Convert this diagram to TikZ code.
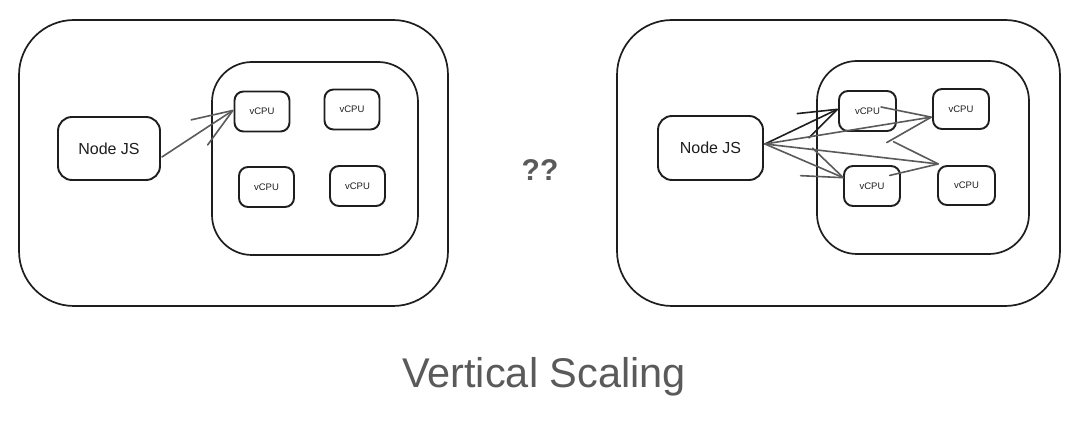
\documentclass[tikz,border=0pt]{standalone}
\usepackage{fontspec}
\setmainfont{Liberation Sans}
\usetikzlibrary{arrows.meta,calc}
\definecolor{ink}{HTML}{1E1E1E}
\definecolor{gry}{HTML}{5A5A5A}
\begin{document}
\begin{tikzpicture}[x=1pt,y=-1pt,
  shell/.style={draw=ink,line width=1.7pt,rounded corners=55pt,inner sep=0pt},
  inbox/.style={draw=ink,line width=1.7pt,rounded corners=40pt,inner sep=0pt},
  njs/.style={draw=ink,line width=1.9pt,rounded corners=14pt,inner sep=0pt,text=ink,font=\fontsize{16}{18}\selectfont},
  cpu/.style={draw=ink,line width=1.9pt,rounded corners=9pt,inner sep=0pt,text=ink,font=\fontsize{9.5}{11}\selectfont},
  conn/.style={line width=1.6pt,line cap=round,line join=round},
]
\useasboundingbox[fill=white] (0,0) rectangle (1080,422);

% ---------- left panel ----------
\node[shell,minimum width=429pt,minimum height=286pt] (lout) at (233.5,163) {};
\node[inbox,minimum width=206pt,minimum height=193pt] (lin) at (315,158.5) {};
\node[njs,minimum width=102pt,minimum height=63pt] (lnjs) at (109,148.5) {Node JS};
\node[cpu,minimum width=55pt,minimum height=40pt] (lc1) at (262,111.5) {vCPU};
\node[cpu,minimum width=55pt,minimum height=40pt] (lc2) at (352,109.5) {vCPU};
\node[cpu,minimum width=55pt,minimum height=40pt] (lc3) at (266.5,187) {vCPU};
\node[cpu,minimum width=55pt,minimum height=40pt] (lc4) at (357.5,186) {vCPU};

\draw[conn,draw=gry,-{Straight Barb[length=40pt,width=30pt,round]}]
  ($(lnjs.east)+(1,8.5)$) -- ($(lc1.west)+(0,-1.5)$);

% ---------- middle ----------
\node[text=gry,font=\bfseries\fontsize{30}{34}\selectfont] (qq) at (540,170) {??};

% ---------- right panel ----------
\node[shell,minimum width=443pt,minimum height=286pt] (rout) at (838.5,163) {};
\node[inbox,minimum width=212pt,minimum height=193pt] (rin) at (923,157.5) {};
\node[njs,minimum width=105pt,minimum height=64pt] (rnjs) at (710.5,148) {Node JS};
\node[cpu,minimum width=57pt,minimum height=40pt] (rc1) at (867.5,111) {vCPU};
\node[cpu,minimum width=56pt,minimum height=40pt] (rc2) at (961,109) {vCPU};
\node[cpu,minimum width=56pt,minimum height=40pt] (rc3) at (872,186) {vCPU};
\node[cpu,minimum width=57pt,minimum height=39pt] (rc4) at (966.5,185.5) {vCPU};

\coordinate (rs) at ($(rnjs.east)+(1,-4)$);
\draw[conn,draw=ink,-{Straight Barb[length=38pt,width=27pt,round]}]
  (rs) -- ($(rc1.west)+(0,-2)$);
\draw[conn,draw=gry,-{Straight Barb[length=48pt,width=36pt,round]}]
  (rs) -- ($(rc2.west)+(0,8)$);
\draw[conn,draw=gry,-{Straight Barb[length=40pt,width=30pt,round]}]
  (rs) -- ($(rc3.west)+(1,-8)$);
\draw[conn,draw=gry,-{Straight Barb[length=47pt,width=34pt,round]}]
  (rs) -- ($(rc4.north west)+(2,-1)$);

% ---------- caption ----------
\node[text=gry,anchor=base,font=\fontsize{41.5}{46}\selectfont] (cap) at (544,388) {Vertical Scaling};
\end{tikzpicture}
\end{document}
